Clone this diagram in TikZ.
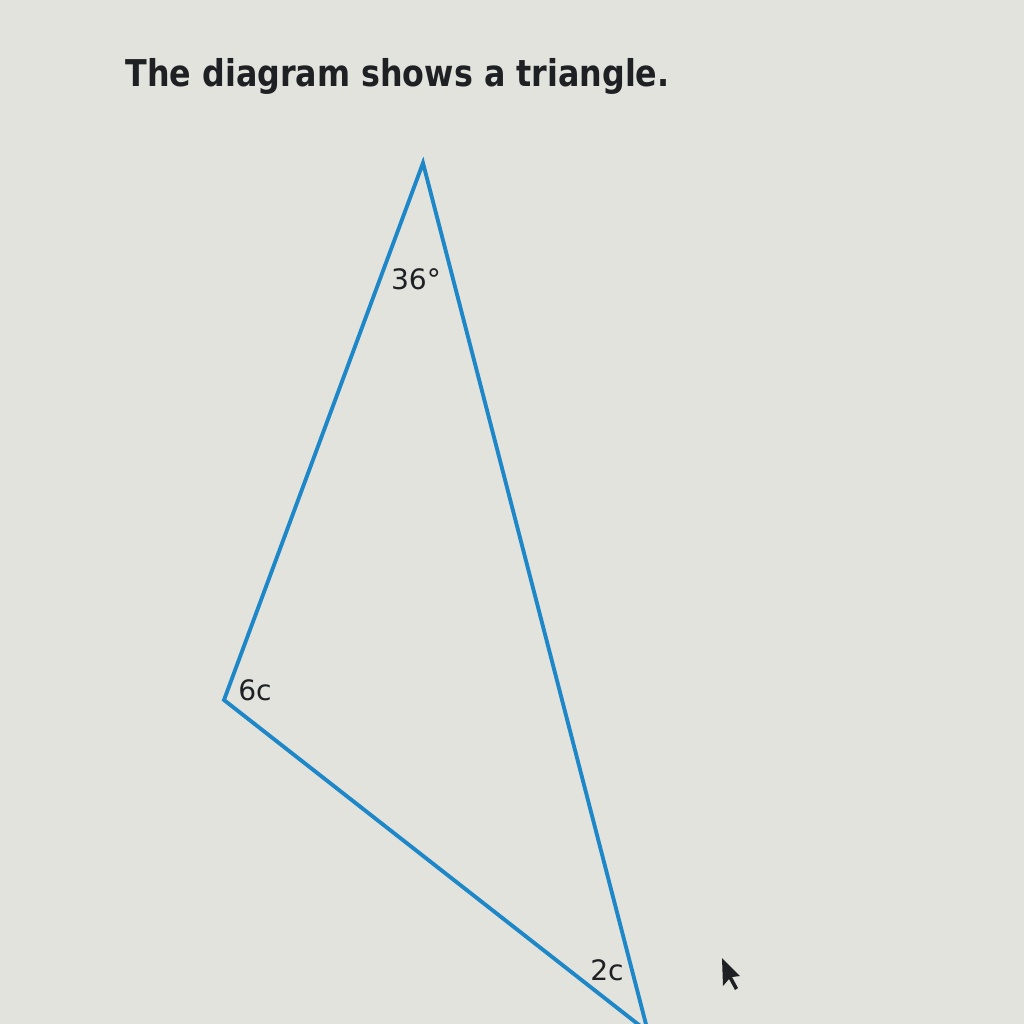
\documentclass[tikz,border=0pt]{standalone}
\usepackage{fontspec}
\setmainfont{DejaVu Sans}
\definecolor{screen}{RGB}{226,227,221}
\definecolor{edge}{RGB}{30,135,200}
\definecolor{ink}{RGB}{30,32,35}

\begin{document}
\begin{tikzpicture}[x=0.01cm,y=-0.01cm,
  lbl/.style={text=ink,inner sep=0pt,font=\fontsize{8}{10}\selectfont}]
\useasboundingbox (0,0) rectangle (1024,1024);
\clip (0,0) rectangle (1024,1024);
\fill[screen] (0,0) rectangle (1024,1024);
% title
\node[anchor=west,text=ink,inner sep=0pt,xscale=0.86,font=\bfseries\fontsize{10.5}{13}\selectfont] (title) at (125,76) {The diagram shows a triangle.};
% triangle
\coordinate (apex) at (423,163);
\coordinate (left) at (224,700);
\coordinate (bottom) at (648,1032);
\draw[edge,line width=1.1pt,line join=miter] (apex) -- (left) -- (bottom) -- cycle;
\node[lbl] (angA) at (416,279) {36°};
\node[lbl] (angB) at (255,690) {6c};
\node[lbl] (angC) at (607,970) {2c};
% pointer
\fill[ink] (722,958) -- (723,986) -- (729,979) -- (735,990) -- (738,988) -- (732,977) -- (740,976) -- cycle;
\end{tikzpicture}
\end{document}
